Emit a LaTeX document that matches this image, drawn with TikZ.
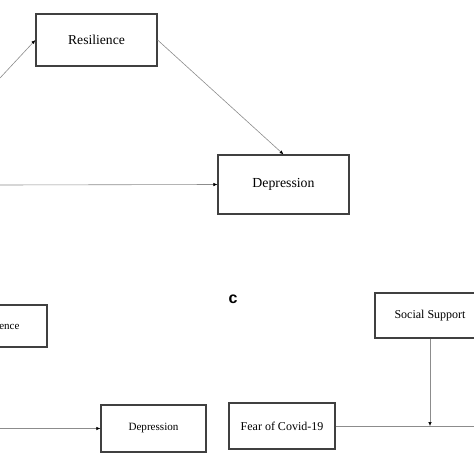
\documentclass[tikz,border=0pt]{standalone}
\usepackage{fontspec}
\setmainfont{Liberation Serif}
\setsansfont{Liberation Sans}
\usepackage{tikz}
\usetikzlibrary{arrows.meta,positioning}

\begin{document}
\begin{tikzpicture}[x=1pt,y=-1pt]
\tikzstyle{box}=[draw=black!75,line width=1.2pt,inner sep=0pt]
\tikzstyle{link}=[draw=black!45,line width=0.6pt]
\tikzstyle{arr}=[link,-{Latex[black,length=4pt,width=3.5pt]}]
\useasboundingbox (0,0) rectangle (474,474);
\clip (0,0) rectangle (474,474);
% upper model
\node[box,minimum width=121pt,minimum height=52pt,font=\fontsize{13.6}{16}\selectfont] (res1) at (96.5,40) {Resilience};
\node[box,minimum width=131pt,minimum height=59pt,font=\fontsize{13.8}{16}\selectfont] (dep1) at (283.5,184.5) {Depression};
\coordinate (inA) at (0,78);
\coordinate (inB) at (0,185);
\draw[arr] (inA) -- (res1.west);
\draw[arr] (res1.east) -- (dep1.north);
\draw[arr] (inB) -- (dep1.west);
% lower left model
\node[box,minimum width=101pt,minimum height=42pt,font=\fontsize{11}{13}\selectfont] (res2) at (-3.5,326) {Resilience};
\node[box,minimum width=105pt,minimum height=47pt,font=\fontsize{11.1}{13}\selectfont] (dep2) at (153.5,428.5) {Depression};
\coordinate (inC) at (0,428.5);
\draw[arr] (inC) -- (dep2.west);
% panel c
\node[font=\sffamily\bfseries\fontsize{16}{18}\selectfont] (lblc) at (233,299) {c};
\node[box,minimum width=106pt,minimum height=46pt,font=\fontsize{12}{14}\selectfont] (fear) at (282,426) {Fear of Covid-19};
\node[box,minimum width=110pt,minimum height=45pt,font=\fontsize{12}{14}\selectfont] (soc) at (430,315.5) {Social Support};
\coordinate (outE) at (474,426);
\coordinate (meet) at (soc.south |- fear.east);
\draw[link] (fear.east) -- (outE);
\draw[arr] (soc.south) -- (meet);
\end{tikzpicture}
\end{document}
